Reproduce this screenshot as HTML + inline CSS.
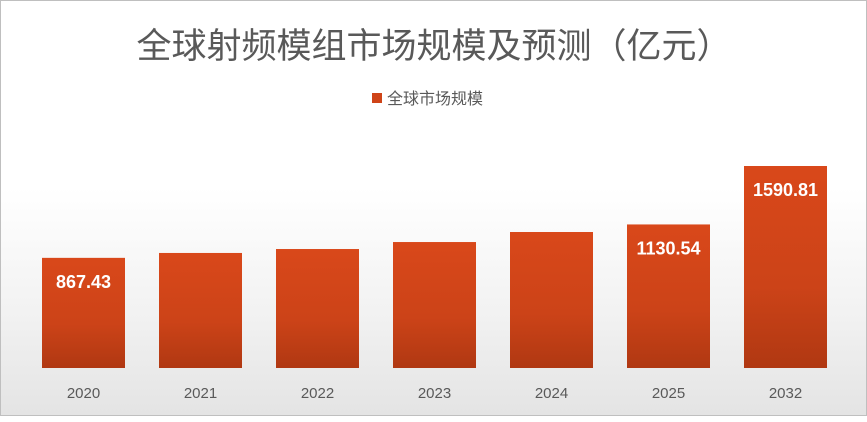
<!DOCTYPE html>
<html><head><meta charset="utf-8">
<style>
html,body{margin:0;padding:0;}
body{width:867px;height:416px;overflow:hidden;font-family:"Liberation Sans","Noto Sans CJK SC",sans-serif;}
#chart{position:absolute;left:0;top:0;width:865px;height:414px;border:1px solid #bfbfbf;
background:linear-gradient(180deg,#ffffff 0%,#ffffff 45%,#f2f2f2 75%,#e4e4e4 100%);}
</style></head>
<body>
<div id="chart">
<svg width="867" height="416" xmlns="http://www.w3.org/2000/svg" id="svg">
<defs>
<linearGradient id="barg" x1="0" y1="0" x2="0" y2="1">
<stop offset="0" stop-color="#d9481a"/><stop offset="0.6" stop-color="#cc4318"/><stop offset="1" stop-color="#b03812"/>
</linearGradient>
</defs>
<text x="433" y="57" text-anchor="middle" font-size="35" fill="#595959" font-family="Liberation Sans,Noto Sans CJK SC,sans-serif">全球射频模组市场规模及预测（亿元）</text>
<g>
<rect x="371" y="92" width="10" height="10" fill="#cf4418"/>
<text x="386" y="103" font-size="16" fill="#595959">全球市场规模</text>
</g>
<g id="bars"></g>
</svg>
</div>
<script>
const categories=["2020","2021","2022","2023","2024","2025","2032"];
const values=[867.43,906,937,992,1071,1130.54,1590.81];
const labelShown=[true,false,false,false,false,true,true];
const baseY=367, scale=202/1590.81;
function xPos(i){return 41+i*117;}
function yPos(v){return baseY-v*scale;}
const g=document.getElementById('bars');
const NS="http://www.w3.org/2000/svg";
categories.forEach((c,i)=>{
  const r=document.createElementNS(NS,'rect');
  r.setAttribute('x',xPos(i));r.setAttribute('y',yPos(values[i]));
  r.setAttribute('width',83);r.setAttribute('height',baseY-yPos(values[i]));
  r.setAttribute('fill','url(#barg)');
  
  
  g.appendChild(r);
  const t=document.createElementNS(NS,'text');
  t.setAttribute('x',xPos(i)+41.5);t.setAttribute('y',397);
  t.setAttribute('text-anchor','middle');t.setAttribute('font-size','15');t.setAttribute('fill','#595959');
  t.textContent=c;
  
  
  g.appendChild(t);
  if(labelShown[i]){
    const v=document.createElementNS(NS,'text');
    v.setAttribute('x',xPos(i)+41.5);v.setAttribute('y',yPos(values[i])+30);
    v.setAttribute('text-anchor','middle');v.setAttribute('font-size','18');v.setAttribute('font-weight','bold');v.setAttribute('fill','#ffffff');
    v.textContent=values[i].toFixed(2);
    
    
    g.appendChild(v);
  }
});
</script>
</body></html>
